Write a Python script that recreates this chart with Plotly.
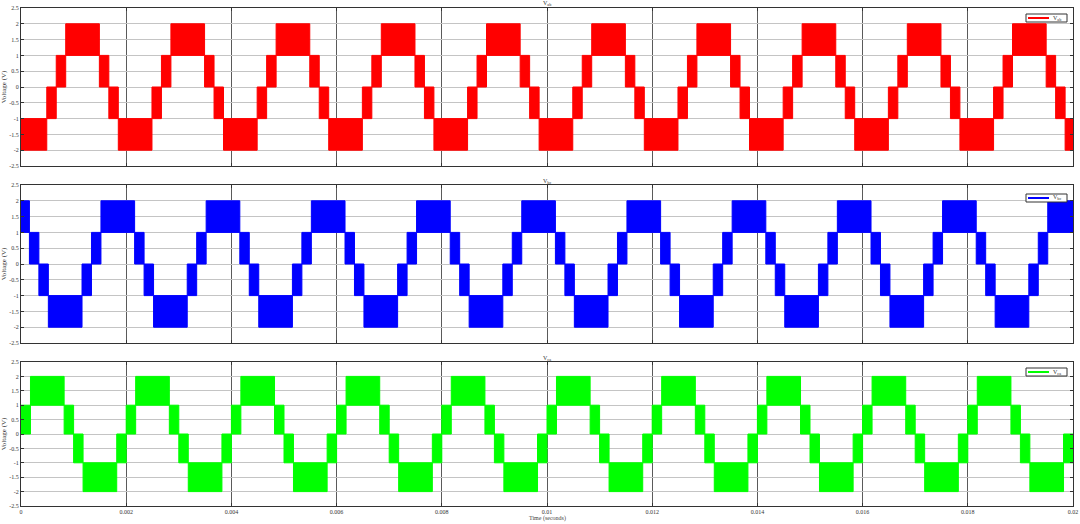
import plotly.graph_objects as go

# ---------------- data ----------------
T_START = 0.0
T_END = 0.02

# switching instants (s) where the PWM band changes level
ab_edges = [0.00049, 0.00067, 0.00085, 0.00149, 0.00167, 0.00185,
            0.00249, 0.00267, 0.00285, 0.00349, 0.00367, 0.00385,
            0.00449, 0.00467, 0.00485, 0.00549, 0.00567, 0.00585,
            0.00649, 0.00667, 0.00685, 0.00749, 0.00767, 0.00785,
            0.00849, 0.00867, 0.00885, 0.00949, 0.00967, 0.00985,
            0.01049, 0.01067, 0.01085, 0.01149, 0.01167, 0.01185,
            0.01249, 0.01267, 0.01285, 0.01349, 0.01367, 0.01385,
            0.01449, 0.01467, 0.01485, 0.01549, 0.01567, 0.01585,
            0.01649, 0.01667, 0.01685, 0.01749, 0.01767, 0.01785,
            0.01849, 0.01867, 0.01885, 0.01949, 0.01967, 0.01985]
# lower level of the band (band spans level .. level+1) for each segment
ab_levels = [-2,
             -1, 0, 1, 0, -1, -2,  -1, 0, 1, 0, -1, -2,
             -1, 0, 1, 0, -1, -2,  -1, 0, 1, 0, -1, -2,
             -1, 0, 1, 0, -1, -2,  -1, 0, 1, 0, -1, -2,
             -1, 0, 1, 0, -1, -2,  -1, 0, 1, 0, -1, -2,
             -1, 0, 1, 0, -1, -2,  -1, 0, 1, 0, -1, -2]

bc_edges = [0.00016, 0.00034, 0.00052, 0.00116, 0.00134, 0.00152,
            0.00216, 0.00234, 0.00252, 0.00316, 0.00334, 0.00352,
            0.00416, 0.00434, 0.00452, 0.00516, 0.00534, 0.00552,
            0.00616, 0.00634, 0.00652, 0.00716, 0.00734, 0.00752,
            0.00816, 0.00834, 0.00852, 0.00916, 0.00934, 0.00952,
            0.01016, 0.01034, 0.01052, 0.01116, 0.01134, 0.01152,
            0.01216, 0.01234, 0.01252, 0.01316, 0.01334, 0.01352,
            0.01416, 0.01434, 0.01452, 0.01516, 0.01534, 0.01552,
            0.01616, 0.01634, 0.01652, 0.01716, 0.01734, 0.01752,
            0.01816, 0.01834, 0.01852, 0.01916, 0.01934, 0.01952]
bc_levels = [1,
             0, -1, -2, -1, 0, 1,  0, -1, -2, -1, 0, 1,
             0, -1, -2, -1, 0, 1,  0, -1, -2, -1, 0, 1,
             0, -1, -2, -1, 0, 1,  0, -1, -2, -1, 0, 1,
             0, -1, -2, -1, 0, 1,  0, -1, -2, -1, 0, 1,
             0, -1, -2, -1, 0, 1,  0, -1, -2, -1, 0, 1]

ca_edges = [0.00018, 0.00082, 0.00100, 0.00118, 0.00182, 0.00200,
            0.00218, 0.00282, 0.00300, 0.00318, 0.00382, 0.00400,
            0.00418, 0.00482, 0.00500, 0.00518, 0.00582, 0.00600,
            0.00618, 0.00682, 0.00700, 0.00718, 0.00782, 0.00800,
            0.00818, 0.00882, 0.00900, 0.00918, 0.00982, 0.01000,
            0.01018, 0.01082, 0.01100, 0.01118, 0.01182, 0.01200,
            0.01218, 0.01282, 0.01300, 0.01318, 0.01382, 0.01400,
            0.01418, 0.01482, 0.01500, 0.01518, 0.01582, 0.01600,
            0.01618, 0.01682, 0.01700, 0.01718, 0.01782, 0.01800,
            0.01818, 0.01882, 0.01900, 0.01918, 0.01982]
ca_levels = [0,
             1, 0, -1, -2, -1, 0,  1, 0, -1, -2, -1, 0,
             1, 0, -1, -2, -1, 0,  1, 0, -1, -2, -1, 0,
             1, 0, -1, -2, -1, 0,  1, 0, -1, -2, -1, 0,
             1, 0, -1, -2, -1, 0,  1, 0, -1, -2, -1, 0,
             1, 0, -1, -2, -1, 0,  1, 0, -1, -2, -1]

series_titles = ["V<sub>ab</sub>", "V<sub>bc</sub>", "V<sub>ca</sub>"]
series_colors = ["#ff0000", "#0000ff", "#00ff00"]

x_tick_vals = [0, 0.002, 0.004, 0.006, 0.008, 0.01, 0.012, 0.014, 0.016, 0.018, 0.02]
x_tick_text = ["0", "0.002", "0.004", "0.006", "0.008", "0.01", "0.012", "0.014", "0.016", "0.018", "0.02"]
y_tick_vals = [-2.5, -2, -1.5, -1, -0.5, 0, 0.5, 1, 1.5, 2, 2.5]
y_tick_text = ["-2.5", "-2", "-1.5", "-1", "-0.5", "0", "0.5", "1", "1.5", "2", "2.5"]

# ---------------- figure ----------------
FONT = "Liberation Serif, Times New Roman, serif"
W, H = 1080, 524
M_L, M_R, M_T, M_B = 21, 7, 8, 18
plot_w = W - M_L - M_R
plot_h = H - M_T - M_B
plot_tops = [8, 185, 362]
plot_bots = [166, 343, 506]


def px_x(px):
    return (px - M_L) / plot_w


def px_y(py):
    return (H - M_B - py) / plot_h


domains = [[px_y(b), px_y(t)] for t, b in zip(plot_tops, plot_bots)]


def band_rects(edges, levels):
    bounds = [T_START] + list(edges) + [T_END]
    xs, ys = [], []
    for i, lo in enumerate(levels):
        x0, x1 = bounds[i], bounds[i + 1]
        xs += [x0, x1, x1, x0, x0, None]
        ys += [lo, lo, lo + 1, lo + 1, lo, None]
    return xs, ys


fig = go.Figure()
all_edges = [ab_edges, bc_edges, ca_edges]
all_levels = [ab_levels, bc_levels, ca_levels]

for i in range(3):
    xs, ys = band_rects(all_edges[i], all_levels[i])
    xa = "x" if i == 0 else f"x{i+1}"
    ya = "y" if i == 0 else f"y{i+1}"
    fig.add_trace(go.Scatter(
        x=xs, y=ys, mode="lines", fill="toself",
        fillcolor=series_colors[i],
        line=dict(color=series_colors[i], width=1),
        xaxis=xa, yaxis=ya, showlegend=False, hoverinfo="skip"))

annotations = []
shapes = []

layout = dict(
    width=W, height=H,
    margin=dict(l=M_L, r=M_R, t=M_T, b=M_B, pad=0),
    paper_bgcolor="white", plot_bgcolor="white",
    font=dict(family=FONT, size=6, color="#333333"),
    showlegend=False,
)

for i in range(3):
    sx = "" if i == 0 else str(i + 1)
    ya = "y" + sx
    xa = "x" + sx
    layout["xaxis" + sx] = dict(
        domain=[0, 1], anchor=ya, range=[T_START, T_END],
        tickmode="array", tickvals=x_tick_vals, ticktext=x_tick_text,
        showticklabels=(i == 2), ticks="inside", ticklen=3, tickcolor="#333333",
        showgrid=True, gridcolor="#5a5a5a", gridwidth=1,
        showline=True, linecolor="#333333", linewidth=1, mirror="ticks",
        zeroline=False, automargin=False,
        tickfont=dict(family=FONT, size=6, color="#333333"),
    )
    layout["yaxis" + sx] = dict(
        domain=domains[i], anchor=xa, range=[-2.5, 2.5],
        tickmode="array", tickvals=y_tick_vals, ticktext=y_tick_text,
        ticks="inside", ticklen=3, tickcolor="#333333",
        showgrid=True, gridcolor="#c4c4c4", gridwidth=1,
        showline=True, linecolor="#333333", linewidth=1, mirror="ticks",
        zeroline=False, automargin=False,
        tickfont=dict(family=FONT, size=6, color="#333333"),
        title=dict(text="Voltage (V)",
                   font=dict(family=FONT, size=7, color="#333333"), standoff=2),
    )
    # subplot title
    annotations.append(dict(
        text=series_titles[i], xref="paper", yref="paper",
        x=0.5, y=px_y(plot_tops[i] - 4), xanchor="center", yanchor="middle",
        showarrow=False, font=dict(family=FONT, size=6, color="#333333")))
    # legend box (drawn in paper coordinates)
    top = plot_tops[i] + (9 if i == 1 else 6)
    bot = top + 8
    shapes.append(dict(type="rect", xref="paper", yref="paper",
                       x0=px_x(1026), x1=px_x(1067), y0=px_y(bot), y1=px_y(top),
                       line=dict(color="#333333", width=1), fillcolor="white",
                       layer="above"))
    shapes.append(dict(type="line", xref="paper", yref="paper",
                       x0=px_x(1028), x1=px_x(1049),
                       y0=px_y((top + bot) / 2), y1=px_y((top + bot) / 2),
                       line=dict(color=series_colors[i], width=2), layer="above"))
    annotations.append(dict(
        text=series_titles[i], xref="paper", yref="paper",
        x=px_x(1051), y=px_y((top + bot) / 2), xanchor="left", yanchor="middle",
        showarrow=False, font=dict(family=FONT, size=6, color="#333333")))

# x-axis title under the bottom subplot
annotations.append(dict(
    text="Time (seconds)", xref="paper", yref="paper",
    x=0.5, y=px_y(518.5), xanchor="center", yanchor="middle",
    showarrow=False, font=dict(family=FONT, size=6, color="#444444")))

layout["annotations"] = annotations
layout["shapes"] = shapes

fig.update_layout(**layout)
fig.write_html("out.html", config={"displayModeBar": False},
               post_script="document.body.style.margin='0px';")
